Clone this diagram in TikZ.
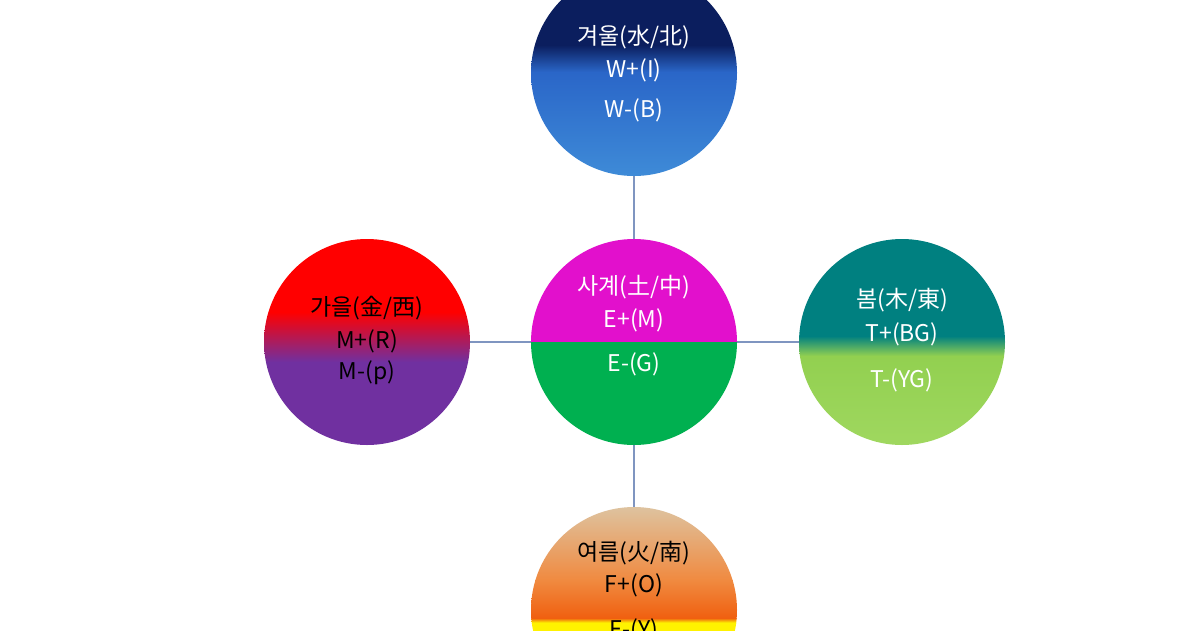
\documentclass[tikz,border=0pt]{standalone}
\usepackage{fontspec}
\setmainfont{Noto Sans CJK KR}
\definecolor{connc}{HTML}{7F95C0}
\begin{document}
\begin{tikzpicture}[x=1pt,y=-1pt,
  ball/.style={circle,minimum size=206pt,inner sep=0pt},
  lbl/.style={font=\fontsize{23}{26}\selectfont,inner sep=0pt},
  conn/.style={draw=connc,line width=1.2pt}]
\useasboundingbox (0,0) rectangle (1200,630);
\fill[white] (0,0) rectangle (1200,630);
\node[ball] (W) at (634,73) {};
\node[ball] (C) at (634,342) {};
\node[ball] (L) at (367,342) {};
\node[ball] (R) at (902,342) {};
\node[ball] (S) at (634,610) {};
\draw[conn] (W) -- (C); \draw[conn] (L) -- (C);
\draw[conn] (C) -- (R); \draw[conn] (C) -- (S);
% top
\definecolor{navy}{HTML}{0B1E5E}\definecolor{mb}{HTML}{2A66C8}\definecolor{lb}{HTML}{3F8CD8}
\begin{scope}\clip (634,73) circle (103);
\fill[navy] (500,-40) rectangle (770,45);
\shade[top color=navy,bottom color=mb] (500,45) rectangle (770,72);
\shade[top color=mb,bottom color=lb] (500,72) rectangle (770,180);
\end{scope}
% center
\begin{scope}\clip (634,342) circle (103);
\fill[fill={rgb,255:red,226;green,16;blue,204}] (520,230) rectangle (750,342);
\fill[fill={rgb,255:red,0;green,176;blue,80}] (520,342) rectangle (750,450);
\end{scope}
% left
\definecolor{pur}{HTML}{7030A0}
\begin{scope}\clip (367,342) circle (103);
\fill[red] (250,230) rectangle (480,312);
\shade[top color=red,bottom color=pur] (250,312) rectangle (480,362);
\fill[pur] (250,362) rectangle (480,450);
\end{scope}
% right
\definecolor{teal1}{HTML}{008080}\definecolor{lg}{HTML}{92D050}\definecolor{lg2}{HTML}{A0D860}
\begin{scope}\clip (902,342) circle (103);
\fill[teal1] (790,230) rectangle (1010,336);
\shade[top color=teal1,bottom color=lg] (790,336) rectangle (1010,356);
\shade[top color=lg,bottom color=lg2] (790,356) rectangle (1010,450);
\end{scope}
% bottom
\definecolor{tan1}{HTML}{DCC8A8}\definecolor{or1}{HTML}{F08A40}\definecolor{or2}{HTML}{F06010}
\begin{scope}\clip (634,610) circle (103);
\shade[top color=tan1,bottom color=or1] (520,500) rectangle (750,580);
\shade[top color=or1,bottom color=or2] (520,580) rectangle (750,618);
\shade[top color=or2,bottom color=yellow] (520,618) rectangle (750,623);
\fill[yellow] (520,623) rectangle (750,720);
\end{scope}
% labels
\node[lbl,white] (w1) at (634,37) {겨울(水/北)};
\node[lbl,white] (w2) at (634,70) {W+(I)};
\node[lbl,white] (w3) at (634,110) {W-(B)};
\node[lbl,white] (c1) at (634,287) {사계(土/中)};
\node[lbl,white] (c2) at (634,320) {E+(M)};
\node[lbl,white] (c3) at (634,364) {E-(G)};
\node[lbl,black] (l1) at (367,308) {가을(金/西)};
\node[lbl,black] (l2) at (367,341) {M+(R)};
\node[lbl,black] (l3) at (367,373) {M-(p)};
\node[lbl,white] (r1) at (902,300) {봄(木/東)};
\node[lbl,white] (r2) at (902,334) {T+(BG)};
\node[lbl,white] (r3) at (902,380) {T-(YG)};
\node[lbl,black] (s1) at (634,553) {여름(火/南)};
\node[lbl,black] (s2) at (634,585) {F+(O)};
\node[lbl,black] (s3) at (634,630) {F-(Y)};
\end{tikzpicture}
\end{document}
